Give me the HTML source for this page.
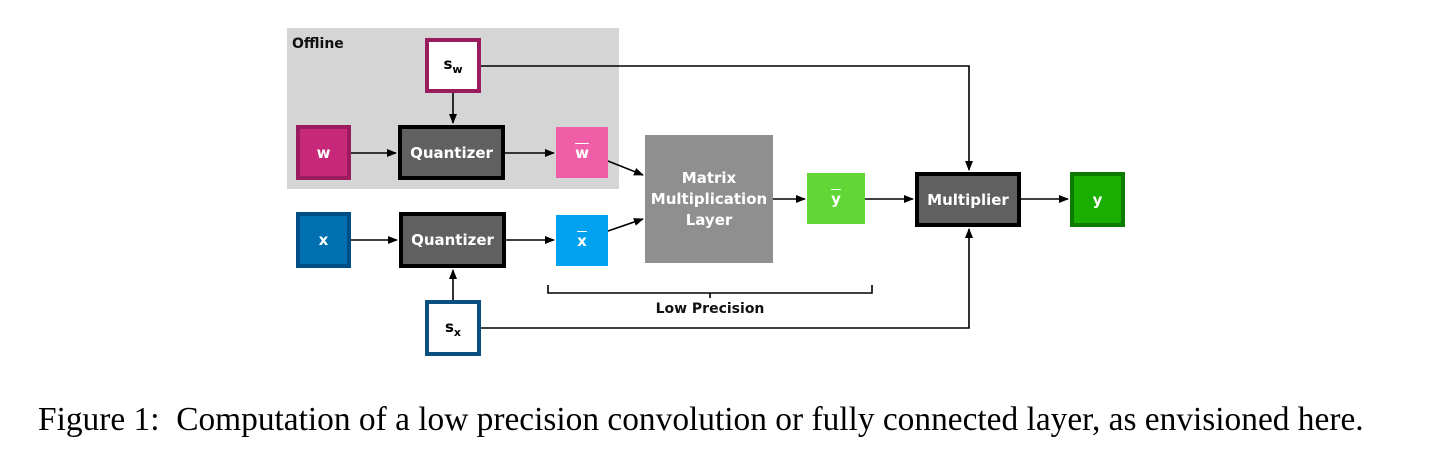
<!DOCTYPE html>
<html><head><style>
body{margin:0;background:#fff;width:1450px;height:458px;overflow:hidden;position:relative;font-family:"DejaVu Sans","Liberation Sans",sans-serif}
.b{position:absolute;box-sizing:border-box;display:flex;align-items:center;justify-content:center;color:#fff;font-weight:bold;font-size:15px}
.cap{position:absolute;left:38px;top:401px;font-family:"Liberation Serif",serif;font-size:33.4px;color:#000;white-space:nowrap}
sub{font-size:11px;vertical-align:-4px}
</style></head><body>
<div class="b" style="left:287px;top:28px;width:332px;height:161px;background:#d5d5d5"></div>
<div style="position:absolute;left:292px;top:36px;font-weight:bold;font-size:14px;color:#111">Offline</div>
<svg style="position:absolute;left:0;top:0" width="1450" height="458">
<defs><marker id="a" markerWidth="10" markerHeight="8" refX="9" refY="4" orient="auto" markerUnits="userSpaceOnUse"><path d="M0,0L10,4L0,8z" fill="#000"/></marker></defs>
<g stroke="#000" stroke-width="1.6" fill="none">
<path d="M481,66H969V170" marker-end="url(#a)"/>
<path d="M481,328H969V229" marker-end="url(#a)"/>
<path d="M453,93V123" marker-end="url(#a)"/>
<path d="M453,300V270" marker-end="url(#a)"/>
<path d="M351,153H396" marker-end="url(#a)"/>
<path d="M351,240H397" marker-end="url(#a)"/>
<path d="M505,153H554" marker-end="url(#a)"/>
<path d="M506,240H554" marker-end="url(#a)"/>
<path d="M608,161L643,175" marker-end="url(#a)"/>
<path d="M608,231L643,219" marker-end="url(#a)"/>
<path d="M773,199H805" marker-end="url(#a)"/>
<path d="M865,199H913" marker-end="url(#a)"/>
<path d="M1021,199H1068" marker-end="url(#a)"/>
<path d="M548,285V293H872V285M710,293V298"/>
</g></svg>
<div class="b" style="left:425px;top:38px;width:56px;height:55px;background:#fff;border:4px solid #9b1b5f;color:#000"><span>s<sub>w</sub></span></div>
<div class="b" style="left:296px;top:125px;width:55px;height:55px;background:#c8287a;border:4px solid #9b1b5f">w</div>
<div class="b" style="left:398px;top:125px;width:107px;height:55px;background:#606060;border:4px solid #000">Quantizer</div>
<div class="b" style="left:556px;top:127px;width:52px;height:51px;background:#ef5fa7"><span style="text-decoration:overline">w</span></div>
<div class="b" style="left:296px;top:212px;width:55px;height:56px;background:#0070b0;border:4px solid #005088">x</div>
<div class="b" style="left:399px;top:212px;width:107px;height:56px;background:#606060;border:4px solid #000">Quantizer</div>
<div class="b" style="left:556px;top:215px;width:52px;height:51px;background:#00a2f0"><span style="text-decoration:overline">x</span></div>
<div class="b" style="left:425px;top:300px;width:56px;height:56px;background:#fff;border:4px solid #0b4f80;color:#000"><span>s<sub>x</sub></span></div>
<div class="b" style="left:645px;top:135px;width:128px;height:128px;background:#8f8f8f;text-align:center;line-height:21px">Matrix<br>Multiplication<br>Layer</div>
<div class="b" style="left:807px;top:173px;width:58px;height:51px;background:#62d636"><span style="text-decoration:overline">y</span></div>
<div class="b" style="left:915px;top:172px;width:106px;height:55px;background:#606060;border:4px solid #000">Multiplier</div>
<div class="b" style="left:1070px;top:172px;width:55px;height:55px;background:#1aaf00;border:4px solid #0d7a00">y</div>
<div style="position:absolute;left:610px;top:301px;width:200px;text-align:center;font-weight:bold;font-size:14px;color:#111">Low Precision</div>
<div class="cap">Figure 1:&nbsp;&nbsp;Computation of a low precision convolution or fully connected layer, as envisioned here.</div>
</body></html>
